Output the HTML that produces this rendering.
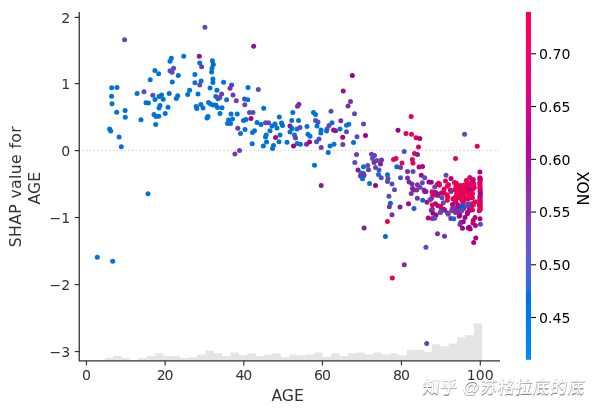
<!DOCTYPE html><html><head><meta charset="utf-8"><title>SHAP dependence plot</title><style>html,body{margin:0;padding:0;background:#fff;width:600px;height:413px;overflow:hidden}svg{display:block}</style></head><body><svg width="600" height="413" viewBox="0 0 600 413" font-family="'DejaVu Sans', 'Liberation Sans', sans-serif"><path d="M79.50 360.80V360.80H87.89V360.80H96.28V360.11H104.67V358.04H113.06V355.98H121.45V358.04H129.84V360.11H138.23V358.04H146.62V355.98H155.01V353.22H163.40V355.98H171.79V355.98H180.18V358.04H188.57V357.36H196.96V354.60H205.35V350.47H213.74V353.22H222.13V355.98H230.52V352.53H238.91V355.29H247.30V353.22H255.69V355.98H264.08V354.60H272.47V353.22H280.86V357.36H289.25V354.60H297.64V355.29H306.03V354.60H314.42V352.53H322.81V356.67H331.20V353.22H339.59V355.98H347.98V353.22H356.37V352.53H364.76V354.60H373.15V352.53H381.54V354.60H389.93V353.22H398.32V355.29H406.71V349.78H415.10V349.78H423.49V351.84H431.88V344.26H440.27V346.33H448.66V343.57H457.05V337.37H465.44V335.31H473.83V323.59H482.22V360.80H490.61V360.80H499.00V360.80Z" fill="#000" fill-opacity="0.1"/><line x1="79.25" y1="150.5" x2="500.0" y2="150.5" stroke="#999" stroke-opacity="0.5" stroke-width="1.1" stroke-dasharray="1.3 2.51" stroke-dashoffset="0.71"/><g><circle cx="455.9" cy="186.2" r="2.5" fill="#ea004f"/><circle cx="456.3" cy="189.4" r="2.5" fill="#ea004f"/><circle cx="456.6" cy="194.1" r="2.5" fill="#ea004f"/><circle cx="456.4" cy="198.2" r="2.5" fill="#ea004f"/><circle cx="460.5" cy="185.6" r="2.5" fill="#ea004f"/><circle cx="460.5" cy="188.7" r="2.5" fill="#ea004f"/><circle cx="460.4" cy="193.0" r="2.5" fill="#ea004f"/><circle cx="459.7" cy="198.0" r="2.5" fill="#ea004f"/><circle cx="464.0" cy="185.5" r="2.5" fill="#ea004f"/><circle cx="464.9" cy="189.6" r="2.5" fill="#ea004f"/><circle cx="464.2" cy="193.5" r="2.5" fill="#ea004f"/><circle cx="464.6" cy="198.0" r="2.5" fill="#ea004f"/><circle cx="467.9" cy="185.6" r="2.5" fill="#ea004f"/><circle cx="468.1" cy="189.1" r="2.5" fill="#ea004f"/><circle cx="468.9" cy="193.5" r="2.5" fill="#ea004f"/><circle cx="468.6" cy="197.9" r="2.5" fill="#ea004f"/><circle cx="473.2" cy="185.4" r="2.5" fill="#ea004f"/><circle cx="472.7" cy="189.5" r="2.5" fill="#ea004f"/><circle cx="472.5" cy="193.8" r="2.5" fill="#ea004f"/><circle cx="472.4" cy="197.6" r="2.5" fill="#ea004f"/><circle cx="426.0" cy="191.5" r="2.5" fill="#861e96"/><circle cx="431.4" cy="198.6" r="2.5" fill="#7e2ea1"/><circle cx="428.9" cy="181.9" r="2.5" fill="#a2008b"/><circle cx="436.0" cy="192.7" r="2.5" fill="#e70059"/><circle cx="432.2" cy="218.6" r="2.5" fill="#7e2ea1"/><circle cx="434.8" cy="195.0" r="2.5" fill="#e70059"/><circle cx="435.4" cy="203.7" r="2.5" fill="#b9007c"/><circle cx="436.5" cy="194.3" r="2.5" fill="#861e96"/><circle cx="438.7" cy="183.3" r="2.5" fill="#e70059"/><circle cx="436.0" cy="214.9" r="2.5" fill="#a2008b"/><circle cx="438.0" cy="195.4" r="2.5" fill="#861e96"/><circle cx="435.8" cy="193.3" r="2.5" fill="#e70059"/><circle cx="439.3" cy="183.9" r="2.5" fill="#e70059"/><circle cx="434.5" cy="192.2" r="2.5" fill="#861e96"/><circle cx="444.4" cy="193.3" r="2.5" fill="#ea004f"/><circle cx="447.6" cy="196.9" r="2.5" fill="#ea004f"/><circle cx="440.4" cy="212.4" r="2.5" fill="#7e2ea1"/><circle cx="444.2" cy="209.6" r="2.5" fill="#861e96"/><circle cx="447.6" cy="212.9" r="2.5" fill="#7e2ea1"/><circle cx="454.4" cy="182.5" r="2.5" fill="#ea004f"/><circle cx="455.6" cy="190.0" r="2.5" fill="#ea0052"/><circle cx="450.8" cy="218.4" r="2.5" fill="#7e2ea1"/><circle cx="452.4" cy="209.9" r="2.5" fill="#723aac"/><circle cx="455.9" cy="189.9" r="2.5" fill="#ea004f"/><circle cx="455.9" cy="202.0" r="2.5" fill="#e70059"/><circle cx="455.2" cy="209.8" r="2.5" fill="#7e2ea1"/><circle cx="455.2" cy="212.0" r="2.5" fill="#7e2ea1"/><circle cx="456.2" cy="183.3" r="2.5" fill="#ea004f"/><circle cx="450.4" cy="189.9" r="2.5" fill="#ea0052"/><circle cx="452.3" cy="208.8" r="2.5" fill="#723aac"/><circle cx="452.9" cy="198.8" r="2.5" fill="#e70059"/><circle cx="460.7" cy="222.5" r="2.5" fill="#7e2ea1"/><circle cx="462.8" cy="204.5" r="2.5" fill="#7e2ea1"/><circle cx="462.1" cy="200.7" r="2.5" fill="#e70059"/><circle cx="460.0" cy="207.5" r="2.5" fill="#ae0084"/><circle cx="459.5" cy="194.9" r="2.5" fill="#ea0052"/><circle cx="459.9" cy="215.1" r="2.5" fill="#a2008b"/><circle cx="457.6" cy="210.2" r="2.5" fill="#7e2ea1"/><circle cx="460.6" cy="194.4" r="2.5" fill="#e70059"/><circle cx="464.5" cy="185.0" r="2.5" fill="#e70059"/><circle cx="459.2" cy="190.6" r="2.5" fill="#e70059"/><circle cx="458.9" cy="211.9" r="2.5" fill="#7e2ea1"/><circle cx="460.4" cy="192.0" r="2.5" fill="#e70059"/><circle cx="463.9" cy="207.9" r="2.5" fill="#7e2ea1"/><circle cx="459.9" cy="210.8" r="2.5" fill="#7e2ea1"/><circle cx="463.7" cy="185.9" r="2.5" fill="#e70059"/><circle cx="463.3" cy="208.6" r="2.5" fill="#7e2ea1"/><circle cx="470.2" cy="229.0" r="2.5" fill="#a2008b"/><circle cx="472.3" cy="203.5" r="2.5" fill="#723aac"/><circle cx="467.4" cy="189.7" r="2.5" fill="#ea0052"/><circle cx="467.8" cy="204.8" r="2.5" fill="#723aac"/><circle cx="470.8" cy="193.8" r="2.5" fill="#ea0052"/><circle cx="471.0" cy="197.8" r="2.5" fill="#ea0052"/><circle cx="466.4" cy="180.5" r="2.5" fill="#ea0052"/><circle cx="470.7" cy="209.9" r="2.5" fill="#ae0084"/><circle cx="467.1" cy="184.5" r="2.5" fill="#e70059"/><circle cx="473.8" cy="183.5" r="2.5" fill="#ea0052"/><circle cx="467.3" cy="213.7" r="2.5" fill="#ae0084"/><circle cx="473.3" cy="179.5" r="2.5" fill="#ea0052"/><circle cx="470.4" cy="183.6" r="2.5" fill="#e70059"/><circle cx="471.2" cy="206.6" r="2.5" fill="#e70059"/><circle cx="469.2" cy="227.2" r="2.5" fill="#a2008b"/><circle cx="473.2" cy="220.5" r="2.5" fill="#b9007c"/><circle cx="470.9" cy="193.5" r="2.5" fill="#e70059"/><circle cx="467.9" cy="198.7" r="2.5" fill="#ea0052"/><circle cx="471.8" cy="188.4" r="2.5" fill="#ea0052"/><circle cx="469.6" cy="207.1" r="2.5" fill="#7e2ea1"/><circle cx="468.2" cy="203.8" r="2.5" fill="#723aac"/><circle cx="480.0" cy="178.0" r="2.5" fill="#e30062"/><circle cx="480.2" cy="179.5" r="2.5" fill="#e10064"/><circle cx="480.1" cy="181.0" r="2.5" fill="#e6005b"/><circle cx="479.9" cy="182.5" r="2.5" fill="#e80056"/><circle cx="479.9" cy="184.0" r="2.5" fill="#e70059"/><circle cx="479.9" cy="185.5" r="2.5" fill="#e10064"/><circle cx="480.1" cy="187.0" r="2.5" fill="#ea004c"/><circle cx="479.9" cy="188.5" r="2.5" fill="#e4005f"/><circle cx="480.2" cy="190.0" r="2.5" fill="#ea004a"/><circle cx="480.1" cy="191.5" r="2.5" fill="#e6005a"/><circle cx="480.3" cy="193.0" r="2.5" fill="#941391"/><circle cx="480.2" cy="194.5" r="2.5" fill="#9f038c"/><circle cx="480.0" cy="196.0" r="2.5" fill="#970f8f"/><circle cx="480.0" cy="197.5" r="2.5" fill="#b20080"/><circle cx="480.0" cy="199.0" r="2.5" fill="#aa0085"/><circle cx="480.2" cy="200.5" r="2.5" fill="#a1008b"/><circle cx="480.1" cy="202.0" r="2.5" fill="#b4007f"/><circle cx="479.9" cy="203.5" r="2.5" fill="#b9007b"/><circle cx="480.2" cy="205.0" r="2.5" fill="#c00076"/><circle cx="480.0" cy="206.5" r="2.5" fill="#c40071"/><circle cx="480.1" cy="208.0" r="2.5" fill="#bc0079"/><circle cx="480.2" cy="209.5" r="2.5" fill="#df0066"/><circle cx="124.6" cy="39.8" r="2.5" fill="#564dbd"/><circle cx="111.7" cy="87.7" r="2.5" fill="#0072d8"/><circle cx="117.0" cy="87.4" r="2.5" fill="#0072d8"/><circle cx="111.6" cy="96.3" r="2.5" fill="#0072d8"/><circle cx="112.0" cy="103.7" r="2.5" fill="#0072d8"/><circle cx="116.7" cy="112.3" r="2.5" fill="#0072d8"/><circle cx="125.1" cy="110.6" r="2.5" fill="#0072d8"/><circle cx="125.3" cy="117.2" r="2.5" fill="#0072d8"/><circle cx="137.1" cy="93.4" r="2.5" fill="#0072d8"/><circle cx="144.0" cy="91.8" r="2.5" fill="#564dbd"/><circle cx="150.2" cy="79.7" r="2.5" fill="#0072d8"/><circle cx="154.9" cy="70.6" r="2.5" fill="#0072d8"/><circle cx="158.6" cy="73.7" r="2.5" fill="#0072d8"/><circle cx="152.8" cy="95.2" r="2.5" fill="#564dbd"/><circle cx="155.0" cy="99.4" r="2.5" fill="#0072d8"/><circle cx="159.0" cy="96.6" r="2.5" fill="#0072d8"/><circle cx="146.0" cy="102.7" r="2.5" fill="#0072d8"/><circle cx="148.4" cy="103.0" r="2.5" fill="#0072d8"/><circle cx="160.0" cy="105.5" r="2.5" fill="#0072d8"/><circle cx="159.0" cy="108.0" r="2.5" fill="#0072d8"/><circle cx="154.0" cy="114.5" r="2.5" fill="#0072d8"/><circle cx="156.1" cy="116.5" r="2.5" fill="#0072d8"/><circle cx="158.8" cy="116.3" r="2.5" fill="#0072d8"/><circle cx="141.0" cy="119.8" r="2.5" fill="#0072d8"/><circle cx="155.7" cy="124.6" r="2.5" fill="#0072d8"/><circle cx="109.6" cy="129.0" r="2.5" fill="#0072d8"/><circle cx="110.7" cy="131.0" r="2.5" fill="#0072d8"/><circle cx="119.1" cy="137.0" r="2.5" fill="#0072d8"/><circle cx="121.3" cy="146.7" r="2.5" fill="#0072d8"/><circle cx="148.0" cy="193.7" r="2.5" fill="#0072d8"/><circle cx="97.3" cy="257.3" r="2.5" fill="#0072d8"/><circle cx="112.7" cy="261.3" r="2.5" fill="#0072d8"/><circle cx="183.7" cy="56.3" r="2.5" fill="#0078da"/><circle cx="199.3" cy="56.3" r="2.5" fill="#941291"/><circle cx="171.3" cy="58.3" r="2.5" fill="#0072d8"/><circle cx="170.0" cy="61.2" r="2.5" fill="#0072d8"/><circle cx="199.7" cy="63.0" r="2.5" fill="#0072d8"/><circle cx="212.4" cy="60.8" r="2.5" fill="#0072d8"/><circle cx="204.9" cy="27.3" r="2.5" fill="#564dbd"/><circle cx="201.6" cy="66.7" r="2.5" fill="#723aac"/><circle cx="213.3" cy="64.6" r="2.5" fill="#0064d0"/><circle cx="212.0" cy="68.3" r="2.5" fill="#0072d8"/><circle cx="211.6" cy="72.0" r="2.5" fill="#0072d8"/><circle cx="170.0" cy="70.7" r="2.5" fill="#564dbd"/><circle cx="173.6" cy="68.3" r="2.5" fill="#564dbd"/><circle cx="172.0" cy="72.3" r="2.5" fill="#564dbd"/><circle cx="178.3" cy="75.4" r="2.5" fill="#0072d8"/><circle cx="172.3" cy="81.9" r="2.5" fill="#0072d8"/><circle cx="194.9" cy="74.6" r="2.5" fill="#0072d8"/><circle cx="194.9" cy="82.7" r="2.5" fill="#0072d8"/><circle cx="201.1" cy="81.0" r="2.5" fill="#0072d8"/><circle cx="199.7" cy="85.0" r="2.5" fill="#6544b5"/><circle cx="212.9" cy="79.0" r="2.5" fill="#0072d8"/><circle cx="212.9" cy="82.6" r="2.5" fill="#0072d8"/><circle cx="223.6" cy="82.3" r="2.5" fill="#0072d8"/><circle cx="231.6" cy="85.0" r="2.5" fill="#1e5dcb"/><circle cx="230.0" cy="88.3" r="2.5" fill="#7e2ea1"/><circle cx="210.0" cy="88.0" r="2.5" fill="#0072d8"/><circle cx="216.9" cy="90.2" r="2.5" fill="#0072d8"/><circle cx="221.6" cy="93.9" r="2.5" fill="#723aac"/><circle cx="233.0" cy="95.0" r="2.5" fill="#723aac"/><circle cx="236.3" cy="100.8" r="2.5" fill="#723aac"/><circle cx="226.6" cy="99.8" r="2.5" fill="#0072d8"/><circle cx="189.6" cy="90.3" r="2.5" fill="#0072d8"/><circle cx="187.7" cy="94.5" r="2.5" fill="#0072d8"/><circle cx="198.0" cy="94.0" r="2.5" fill="#0072d8"/><circle cx="169.2" cy="93.6" r="2.5" fill="#0072d8"/><circle cx="161.5" cy="95.0" r="2.5" fill="#0072d8"/><circle cx="163.2" cy="99.3" r="2.5" fill="#0072d8"/><circle cx="177.7" cy="95.8" r="2.5" fill="#0072d8"/><circle cx="176.3" cy="98.4" r="2.5" fill="#0072d8"/><circle cx="168.0" cy="107.2" r="2.5" fill="#0072d8"/><circle cx="215.8" cy="96.5" r="2.5" fill="#0072d8"/><circle cx="218.0" cy="98.8" r="2.5" fill="#564dbd"/><circle cx="219.8" cy="97.5" r="2.5" fill="#564dbd"/><circle cx="208.5" cy="102.5" r="2.5" fill="#0072d8"/><circle cx="210.5" cy="104.0" r="2.5" fill="#0072d8"/><circle cx="213.0" cy="105.0" r="2.5" fill="#0072d8"/><circle cx="215.8" cy="105.0" r="2.5" fill="#0072d8"/><circle cx="217.5" cy="107.5" r="2.5" fill="#0072d8"/><circle cx="222.0" cy="107.8" r="2.5" fill="#0072d8"/><circle cx="196.2" cy="106.5" r="2.5" fill="#0072d8"/><circle cx="196.8" cy="108.5" r="2.5" fill="#0072d8"/><circle cx="200.8" cy="104.5" r="2.5" fill="#0072d8"/><circle cx="203.0" cy="108.0" r="2.5" fill="#0072d8"/><circle cx="220.0" cy="113.5" r="2.5" fill="#0072d8"/><circle cx="208.0" cy="116.5" r="2.5" fill="#0072d8"/><circle cx="207.0" cy="118.0" r="2.5" fill="#0072d8"/><circle cx="231.0" cy="114.0" r="2.5" fill="#0072d8"/><circle cx="237.2" cy="114.0" r="2.5" fill="#0072d8"/><circle cx="232.5" cy="119.0" r="2.5" fill="#0072d8"/><circle cx="228.5" cy="120.0" r="2.5" fill="#0072d8"/><circle cx="227.5" cy="123.5" r="2.5" fill="#0072d8"/><circle cx="230.5" cy="123.5" r="2.5" fill="#0072d8"/><circle cx="243.5" cy="120.5" r="2.5" fill="#0072d8"/><circle cx="246.0" cy="119.5" r="2.5" fill="#0072d8"/><circle cx="244.5" cy="99.0" r="2.5" fill="#1e5dcb"/><circle cx="247.8" cy="99.8" r="2.5" fill="#0072d8"/><circle cx="244.8" cy="104.8" r="2.5" fill="#723aac"/><circle cx="237.8" cy="128.2" r="2.5" fill="#723aac"/><circle cx="245.0" cy="129.5" r="2.5" fill="#0072d8"/><circle cx="165.2" cy="113.5" r="2.5" fill="#0072d8"/><circle cx="240.5" cy="133.5" r="2.5" fill="#0072d8"/><circle cx="234.9" cy="154.0" r="2.5" fill="#723aac"/><circle cx="239.5" cy="150.5" r="2.5" fill="#723aac"/><circle cx="253.7" cy="46.3" r="2.5" fill="#941291"/><circle cx="248.0" cy="87.4" r="2.5" fill="#0072d8"/><circle cx="258.3" cy="89.4" r="2.5" fill="#564dbd"/><circle cx="263.7" cy="108.2" r="2.5" fill="#0072d8"/><circle cx="297.5" cy="106.3" r="2.5" fill="#7e2ea1"/><circle cx="298.9" cy="104.3" r="2.5" fill="#7e2ea1"/><circle cx="249.5" cy="112.5" r="2.5" fill="#564dbd"/><circle cx="253.0" cy="112.5" r="2.5" fill="#564dbd"/><circle cx="251.0" cy="118.5" r="2.5" fill="#a2008b"/><circle cx="292.8" cy="112.5" r="2.5" fill="#0072d8"/><circle cx="279.3" cy="117.0" r="2.5" fill="#0072d8"/><circle cx="257.0" cy="122.5" r="2.5" fill="#0072d8"/><circle cx="261.0" cy="124.5" r="2.5" fill="#0072d8"/><circle cx="265.5" cy="122.8" r="2.5" fill="#6544b5"/><circle cx="268.5" cy="122.8" r="2.5" fill="#6544b5"/><circle cx="272.0" cy="126.0" r="2.5" fill="#0072d8"/><circle cx="275.0" cy="124.0" r="2.5" fill="#0072d8"/><circle cx="277.0" cy="128.0" r="2.5" fill="#0072d8"/><circle cx="281.5" cy="123.0" r="2.5" fill="#0072d8"/><circle cx="282.5" cy="125.5" r="2.5" fill="#006bd5"/><circle cx="291.8" cy="120.5" r="2.5" fill="#0072d8"/><circle cx="298.5" cy="120.5" r="2.5" fill="#0072d8"/><circle cx="290.0" cy="126.0" r="2.5" fill="#941291"/><circle cx="292.0" cy="128.5" r="2.5" fill="#006bd5"/><circle cx="297.0" cy="129.0" r="2.5" fill="#0072d8"/><circle cx="300.0" cy="127.5" r="2.5" fill="#6544b5"/><circle cx="252.5" cy="132.5" r="2.5" fill="#0072d8"/><circle cx="254.5" cy="130.8" r="2.5" fill="#0072d8"/><circle cx="270.0" cy="130.8" r="2.5" fill="#0072d8"/><circle cx="266.2" cy="135.0" r="2.5" fill="#0072d8"/><circle cx="265.5" cy="137.0" r="2.5" fill="#0072d8"/><circle cx="280.0" cy="135.0" r="2.5" fill="#0072d8"/><circle cx="275.5" cy="137.5" r="2.5" fill="#ae0084"/><circle cx="279.0" cy="141.7" r="2.5" fill="#0072d8"/><circle cx="266.5" cy="142.0" r="2.5" fill="#0072d8"/><circle cx="287.0" cy="142.3" r="2.5" fill="#0072d8"/><circle cx="290.0" cy="132.0" r="2.5" fill="#0072d8"/><circle cx="294.5" cy="135.0" r="2.5" fill="#0072d8"/><circle cx="295.5" cy="138.0" r="2.5" fill="#723aac"/><circle cx="252.2" cy="143.8" r="2.5" fill="#0072d8"/><circle cx="263.3" cy="146.0" r="2.5" fill="#0072d8"/><circle cx="273.5" cy="145.5" r="2.5" fill="#0072d8"/><circle cx="272.5" cy="148.5" r="2.5" fill="#0072d8"/><circle cx="293.5" cy="146.0" r="2.5" fill="#a2008b"/><circle cx="297.2" cy="143.6" r="2.5" fill="#0072d8"/><circle cx="300.4" cy="144.2" r="2.5" fill="#0072d8"/><circle cx="352.3" cy="75.5" r="2.5" fill="#a2008b"/><circle cx="343.2" cy="91.0" r="2.5" fill="#941291"/><circle cx="350.5" cy="101.5" r="2.5" fill="#7e2ea1"/><circle cx="348.0" cy="106.0" r="2.5" fill="#7e2ea1"/><circle cx="331.0" cy="111.2" r="2.5" fill="#564dbd"/><circle cx="354.5" cy="113.8" r="2.5" fill="#564dbd"/><circle cx="313.5" cy="112.5" r="2.5" fill="#0072d8"/><circle cx="315.5" cy="114.5" r="2.5" fill="#0072d8"/><circle cx="315.5" cy="120.5" r="2.5" fill="#564dbd"/><circle cx="318.0" cy="122.0" r="2.5" fill="#564dbd"/><circle cx="317.0" cy="126.0" r="2.5" fill="#0072d8"/><circle cx="307.0" cy="126.5" r="2.5" fill="#0072d8"/><circle cx="321.0" cy="130.0" r="2.5" fill="#0072d8"/><circle cx="320.8" cy="133.0" r="2.5" fill="#0072d8"/><circle cx="332.0" cy="122.8" r="2.5" fill="#0072d8"/><circle cx="329.0" cy="125.5" r="2.5" fill="#6544b5"/><circle cx="327.0" cy="129.0" r="2.5" fill="#6544b5"/><circle cx="326.5" cy="131.0" r="2.5" fill="#0072d8"/><circle cx="340.8" cy="120.8" r="2.5" fill="#7e2ea1"/><circle cx="333.5" cy="130.0" r="2.5" fill="#941291"/><circle cx="335.5" cy="130.8" r="2.5" fill="#941291"/><circle cx="340.0" cy="129.0" r="2.5" fill="#0072d8"/><circle cx="346.5" cy="125.2" r="2.5" fill="#0072d8"/><circle cx="348.8" cy="124.2" r="2.5" fill="#0072d8"/><circle cx="346.5" cy="131.8" r="2.5" fill="#4156c5"/><circle cx="308.0" cy="134.3" r="2.5" fill="#0072d8"/><circle cx="310.0" cy="136.3" r="2.5" fill="#0072d8"/><circle cx="342.7" cy="137.2" r="2.5" fill="#ae0084"/><circle cx="357.0" cy="136.8" r="2.5" fill="#564dbd"/><circle cx="306.5" cy="144.2" r="2.5" fill="#7e2ea1"/><circle cx="309.5" cy="142.0" r="2.5" fill="#a2008b"/><circle cx="316.5" cy="141.8" r="2.5" fill="#564dbd"/><circle cx="319.0" cy="139.0" r="2.5" fill="#564dbd"/><circle cx="321.2" cy="147.5" r="2.5" fill="#723aac"/><circle cx="330.0" cy="146.0" r="2.5" fill="#0072d8"/><circle cx="334.0" cy="144.2" r="2.5" fill="#0072d8"/><circle cx="328.2" cy="152.5" r="2.5" fill="#0072d8"/><circle cx="342.8" cy="144.5" r="2.5" fill="#723aac"/><circle cx="353.5" cy="142.5" r="2.5" fill="#0072d8"/><circle cx="356.5" cy="154.5" r="2.5" fill="#723aac"/><circle cx="354.8" cy="162.5" r="2.5" fill="#564dbd"/><circle cx="314.5" cy="165.2" r="2.5" fill="#0072d8"/><circle cx="358.0" cy="170.0" r="2.5" fill="#941291"/><circle cx="321.2" cy="185.5" r="2.5" fill="#861e96"/><circle cx="363.5" cy="124.0" r="2.5" fill="#564dbd"/><circle cx="411.2" cy="116.5" r="2.5" fill="#e70059"/><circle cx="398.0" cy="130.3" r="2.5" fill="#a2008b"/><circle cx="406.0" cy="133.5" r="2.5" fill="#e70059"/><circle cx="411.5" cy="134.2" r="2.5" fill="#e70059"/><circle cx="365.5" cy="135.5" r="2.5" fill="#a2008b"/><circle cx="404.2" cy="151.5" r="2.5" fill="#564dbd"/><circle cx="371.5" cy="154.2" r="2.5" fill="#723aac"/><circle cx="374.5" cy="155.5" r="2.5" fill="#723aac"/><circle cx="372.5" cy="158.5" r="2.5" fill="#564dbd"/><circle cx="377.0" cy="160.5" r="2.5" fill="#564dbd"/><circle cx="381.5" cy="160.0" r="2.5" fill="#7e2ea1"/><circle cx="374.0" cy="162.5" r="2.5" fill="#7e2ea1"/><circle cx="380.5" cy="164.0" r="2.5" fill="#861e96"/><circle cx="393.5" cy="159.5" r="2.5" fill="#e20062"/><circle cx="396.0" cy="158.5" r="2.5" fill="#e20062"/><circle cx="402.0" cy="163.0" r="2.5" fill="#e70059"/><circle cx="412.3" cy="159.5" r="2.5" fill="#e70059"/><circle cx="413.0" cy="163.0" r="2.5" fill="#e70059"/><circle cx="363.5" cy="166.8" r="2.5" fill="#0072d8"/><circle cx="367.8" cy="165.5" r="2.5" fill="#564dbd"/><circle cx="368.5" cy="169.8" r="2.5" fill="#723aac"/><circle cx="361.0" cy="173.0" r="2.5" fill="#0072d8"/><circle cx="363.5" cy="173.5" r="2.5" fill="#0072d8"/><circle cx="360.5" cy="176.0" r="2.5" fill="#7e2ea1"/><circle cx="364.0" cy="175.5" r="2.5" fill="#7e2ea1"/><circle cx="362.5" cy="178.8" r="2.5" fill="#0072d8"/><circle cx="375.5" cy="167.5" r="2.5" fill="#564dbd"/><circle cx="379.0" cy="170.0" r="2.5" fill="#564dbd"/><circle cx="378.5" cy="174.5" r="2.5" fill="#0072d8"/><circle cx="381.2" cy="177.8" r="2.5" fill="#564dbd"/><circle cx="369.5" cy="183.5" r="2.5" fill="#0072d8"/><circle cx="375.5" cy="185.5" r="2.5" fill="#a2008b"/><circle cx="387.5" cy="174.8" r="2.5" fill="#0072d8"/><circle cx="388.0" cy="178.5" r="2.5" fill="#564dbd"/><circle cx="387.5" cy="181.5" r="2.5" fill="#564dbd"/><circle cx="392.0" cy="184.0" r="2.5" fill="#564dbd"/><circle cx="394.5" cy="189.8" r="2.5" fill="#564dbd"/><circle cx="388.9" cy="196.3" r="2.5" fill="#564dbd"/><circle cx="390.4" cy="203.2" r="2.5" fill="#006bd5"/><circle cx="389.3" cy="206.8" r="2.5" fill="#7e2ea1"/><circle cx="396.8" cy="166.8" r="2.5" fill="#006bd5"/><circle cx="400.5" cy="167.5" r="2.5" fill="#723aac"/><circle cx="400.5" cy="177.8" r="2.5" fill="#564dbd"/><circle cx="407.5" cy="171.5" r="2.5" fill="#7e2ea1"/><circle cx="413.0" cy="171.6" r="2.5" fill="#564dbd"/><circle cx="407.5" cy="178.0" r="2.5" fill="#7e2ea1"/><circle cx="409.0" cy="182.0" r="2.5" fill="#7e2ea1"/><circle cx="412.0" cy="184.0" r="2.5" fill="#7e2ea1"/><circle cx="412.5" cy="188.5" r="2.5" fill="#861e96"/><circle cx="414.0" cy="190.0" r="2.5" fill="#861e96"/><circle cx="411.2" cy="193.5" r="2.5" fill="#7e2ea1"/><circle cx="408.5" cy="203.8" r="2.5" fill="#ae0084"/><circle cx="400.0" cy="207.0" r="2.5" fill="#861e96"/><circle cx="414.0" cy="208.4" r="2.5" fill="#1e5dcb"/><circle cx="392.0" cy="214.7" r="2.5" fill="#7e2ea1"/><circle cx="387.4" cy="221.5" r="2.5" fill="#e70059"/><circle cx="364.1" cy="228.0" r="2.5" fill="#861e96"/><circle cx="385.4" cy="236.6" r="2.5" fill="#006bd5"/><circle cx="425.9" cy="247.3" r="2.5" fill="#564dbd"/><circle cx="404.3" cy="264.7" r="2.5" fill="#7e2ea1"/><circle cx="392.3" cy="278.0" r="2.5" fill="#e70059"/><circle cx="426.7" cy="343.6" r="2.5" fill="#564dbd"/><circle cx="416.0" cy="137.8" r="2.5" fill="#e70059"/><circle cx="419.8" cy="138.5" r="2.5" fill="#b9007c"/><circle cx="418.5" cy="147.0" r="2.5" fill="#e70059"/><circle cx="464.6" cy="134.3" r="2.5" fill="#564dbd"/><circle cx="455.5" cy="158.5" r="2.5" fill="#e70059"/><circle cx="414.5" cy="153.5" r="2.5" fill="#e70059"/><circle cx="417.5" cy="154.5" r="2.5" fill="#861e96"/><circle cx="419.0" cy="167.0" r="2.5" fill="#b9007c"/><circle cx="422.5" cy="166.5" r="2.5" fill="#b9007c"/><circle cx="421.3" cy="175.3" r="2.5" fill="#ae0084"/><circle cx="424.7" cy="177.7" r="2.5" fill="#564dbd"/><circle cx="431.2" cy="182.3" r="2.5" fill="#a2008b"/><circle cx="446.0" cy="175.3" r="2.5" fill="#564dbd"/><circle cx="451.0" cy="178.4" r="2.5" fill="#ae0084"/><circle cx="445.5" cy="181.0" r="2.5" fill="#e70059"/><circle cx="448.5" cy="184.8" r="2.5" fill="#e70059"/><circle cx="437.3" cy="184.3" r="2.5" fill="#e70059"/><circle cx="439.3" cy="185.3" r="2.5" fill="#e70059"/><circle cx="434.7" cy="187.0" r="2.5" fill="#564dbd"/><circle cx="444.0" cy="189.3" r="2.5" fill="#e70059"/><circle cx="432.0" cy="191.7" r="2.5" fill="#e70059"/><circle cx="436.7" cy="193.5" r="2.5" fill="#861e96"/><circle cx="441.3" cy="193.0" r="2.5" fill="#c20074"/><circle cx="417.3" cy="184.7" r="2.5" fill="#7e2ea1"/><circle cx="422.3" cy="182.7" r="2.5" fill="#6544b5"/><circle cx="420.0" cy="187.3" r="2.5" fill="#6544b5"/><circle cx="424.0" cy="190.0" r="2.5" fill="#7e2ea1"/><circle cx="416.7" cy="190.0" r="2.5" fill="#7e2ea1"/><circle cx="424.7" cy="191.5" r="2.5" fill="#861e96"/><circle cx="417.3" cy="198.3" r="2.5" fill="#7e2ea1"/><circle cx="422.7" cy="200.3" r="2.5" fill="#006bd5"/><circle cx="427.0" cy="202.3" r="2.5" fill="#b9007c"/><circle cx="430.0" cy="199.7" r="2.5" fill="#6544b5"/><circle cx="432.7" cy="195.0" r="2.5" fill="#e70059"/><circle cx="447.3" cy="186.3" r="2.5" fill="#e70059"/><circle cx="447.3" cy="195.0" r="2.5" fill="#ea004f"/><circle cx="442.0" cy="197.7" r="2.5" fill="#6544b5"/><circle cx="443.3" cy="202.7" r="2.5" fill="#564dbd"/><circle cx="447.3" cy="200.3" r="2.5" fill="#e70059"/><circle cx="432.3" cy="205.0" r="2.5" fill="#ea004f"/><circle cx="438.0" cy="205.7" r="2.5" fill="#b9007c"/><circle cx="431.3" cy="210.3" r="2.5" fill="#7e2ea1"/><circle cx="441.3" cy="208.3" r="2.5" fill="#861e96"/><circle cx="444.7" cy="210.3" r="2.5" fill="#861e96"/><circle cx="456.3" cy="183.8" r="2.5" fill="#ea004f"/><circle cx="469.8" cy="177.4" r="2.5" fill="#e70059"/><circle cx="479.9" cy="172.1" r="2.5" fill="#b9007c"/><circle cx="479.9" cy="178.1" r="2.5" fill="#ae0084"/><circle cx="472.0" cy="181.1" r="2.5" fill="#b9007c"/><circle cx="474.3" cy="187.5" r="2.5" fill="#e70059"/><circle cx="463.0" cy="186.0" r="2.5" fill="#e70059"/><circle cx="467.5" cy="183.8" r="2.5" fill="#e70059"/><circle cx="460.0" cy="189.0" r="2.5" fill="#e70059"/><circle cx="465.3" cy="191.3" r="2.5" fill="#e70059"/><circle cx="454.8" cy="189.8" r="2.5" fill="#ea004f"/><circle cx="451.0" cy="191.6" r="2.5" fill="#7e2ea1"/><circle cx="469.8" cy="189.8" r="2.5" fill="#b9007c"/><circle cx="477.2" cy="146.2" r="2.5" fill="#e70059"/><circle cx="440.8" cy="206.3" r="2.5" fill="#e70059"/><circle cx="440.8" cy="212.1" r="2.5" fill="#564dbd"/><circle cx="448.3" cy="214.2" r="2.5" fill="#6544b5"/><circle cx="453.8" cy="218.8" r="2.5" fill="#0072d8"/><circle cx="451.7" cy="210.8" r="2.5" fill="#723aac"/><circle cx="452.5" cy="204.6" r="2.5" fill="#ae0084"/><circle cx="455.8" cy="207.9" r="2.5" fill="#7e2ea1"/><circle cx="457.9" cy="205.0" r="2.5" fill="#ae0084"/><circle cx="455.8" cy="212.5" r="2.5" fill="#7e2ea1"/><circle cx="459.2" cy="216.3" r="2.5" fill="#a2008b"/><circle cx="457.5" cy="211.7" r="2.5" fill="#7e2ea1"/><circle cx="462.1" cy="206.3" r="2.5" fill="#0064d0"/><circle cx="461.7" cy="210.8" r="2.5" fill="#564dbd"/><circle cx="455.0" cy="200.8" r="2.5" fill="#e70059"/><circle cx="463.8" cy="200.8" r="2.5" fill="#e70059"/><circle cx="466.7" cy="205.8" r="2.5" fill="#564dbd"/><circle cx="469.6" cy="204.2" r="2.5" fill="#723aac"/><circle cx="467.5" cy="212.5" r="2.5" fill="#ae0084"/><circle cx="465.0" cy="217.5" r="2.5" fill="#a2008b"/><circle cx="463.3" cy="221.7" r="2.5" fill="#a2008b"/><circle cx="460.0" cy="224.6" r="2.5" fill="#7e2ea1"/><circle cx="462.5" cy="228.3" r="2.5" fill="#a2008b"/><circle cx="468.3" cy="227.9" r="2.5" fill="#a2008b"/><circle cx="472.9" cy="222.9" r="2.5" fill="#b9007c"/><circle cx="475.4" cy="225.4" r="2.5" fill="#b9007c"/><circle cx="475.0" cy="217.5" r="2.5" fill="#b9007c"/><circle cx="480.0" cy="218.8" r="2.5" fill="#ae0084"/><circle cx="480.4" cy="224.2" r="2.5" fill="#564dbd"/><circle cx="472.5" cy="210.0" r="2.5" fill="#e70059"/><circle cx="473.3" cy="205.0" r="2.5" fill="#e70059"/><circle cx="475.0" cy="201.7" r="2.5" fill="#e70059"/><circle cx="479.2" cy="210.8" r="2.5" fill="#e70059"/><circle cx="479.2" cy="205.0" r="2.5" fill="#e20062"/><circle cx="479.6" cy="200.8" r="2.5" fill="#e70059"/><circle cx="469.2" cy="210.0" r="2.5" fill="#ae0084"/><circle cx="437.5" cy="233.8" r="2.5" fill="#7e2ea1"/><circle cx="444.5" cy="236.2" r="2.5" fill="#7e2ea1"/><circle cx="475.8" cy="237.9" r="2.5" fill="#ae0084"/><circle cx="473.7" cy="242.6" r="2.5" fill="#ae0084"/><circle cx="456.7" cy="188.8" r="2.5" fill="#ea0052"/><circle cx="471.3" cy="193.4" r="2.5" fill="#e70059"/><circle cx="468.9" cy="195.2" r="2.5" fill="#ea0052"/><circle cx="463.1" cy="194.6" r="2.5" fill="#ea0052"/><circle cx="459.6" cy="195.8" r="2.5" fill="#ea0052"/><circle cx="455.0" cy="197.5" r="2.5" fill="#e20062"/><circle cx="464.9" cy="198.1" r="2.5" fill="#ea0052"/><circle cx="470.1" cy="196.3" r="2.5" fill="#ea0052"/><circle cx="461.4" cy="193.4" r="2.5" fill="#e70059"/><circle cx="433.0" cy="213.3" r="2.5" fill="#a2008b"/><circle cx="428.2" cy="218.0" r="2.5" fill="#c20074"/><circle cx="434.7" cy="218.3" r="2.5" fill="#564dbd"/><circle cx="432.3" cy="209.2" r="2.5" fill="#7e2ea1"/></g><path d="M79.25 11.9V360.8H500.0" fill="none" stroke="#333333" stroke-width="1.3" stroke-linecap="butt" stroke-linejoin="miter"/><g stroke="#333333" stroke-width="1.2"><line x1="74.75" y1="17.40" x2="79.25" y2="17.40"/><line x1="74.75" y1="83.60" x2="79.25" y2="83.60"/><line x1="74.75" y1="150.60" x2="79.25" y2="150.60"/><line x1="74.75" y1="217.50" x2="79.25" y2="217.50"/><line x1="74.75" y1="284.56" x2="79.25" y2="284.56"/><line x1="74.75" y1="351.56" x2="79.25" y2="351.56"/><line x1="86.45" y1="360.8" x2="86.45" y2="365.40"/><line x1="165.14" y1="360.8" x2="165.14" y2="365.40"/><line x1="243.80" y1="360.8" x2="243.80" y2="365.40"/><line x1="322.46" y1="360.8" x2="322.46" y2="365.40"/><line x1="401.46" y1="360.8" x2="401.46" y2="365.40"/><line x1="480.30" y1="360.8" x2="480.30" y2="365.40"/></g><g fill="#333333" font-size="14.1px"><text x="70.25" y="22.80" text-anchor="end">2</text><text x="70.25" y="89.00" text-anchor="end">1</text><text x="70.25" y="156.00" text-anchor="end">0</text><text x="70.25" y="222.90" text-anchor="end">−1</text><text x="70.25" y="289.96" text-anchor="end">−2</text><text x="70.25" y="356.96" text-anchor="end">−3</text><text x="86.45" y="380.2" text-anchor="middle">0</text><text x="165.14" y="380.2" text-anchor="middle" textLength="16.8" lengthAdjust="spacing">20</text><text x="243.80" y="380.2" text-anchor="middle" textLength="16.8" lengthAdjust="spacing">40</text><text x="322.46" y="380.2" text-anchor="middle" textLength="16.8" lengthAdjust="spacing">60</text><text x="401.46" y="380.2" text-anchor="middle" textLength="16.8" lengthAdjust="spacing">80</text><text x="480.30" y="380.2" text-anchor="middle">100</text></g><text x="287.65" y="400.7" text-anchor="middle" fill="#333333" font-size="15.7px">AGE</text><g transform="translate(20.85 186.8) rotate(-90)"><text x="0" y="0" text-anchor="middle" fill="#333333" font-size="15.7px" textLength="121" lengthAdjust="spacing">SHAP value for</text></g><g transform="translate(39.9 188.15) rotate(-90)"><text x="0" y="0" text-anchor="middle" fill="#333333" font-size="15.7px">AGE</text></g><defs><linearGradient id="cb" x1="0" y1="1" x2="0" y2="0"><stop offset="0.000" stop-color="#008bfb"/><stop offset="0.030" stop-color="#0086fa"/><stop offset="0.061" stop-color="#0082f8"/><stop offset="0.091" stop-color="#007ef6"/><stop offset="0.121" stop-color="#0079f3"/><stop offset="0.152" stop-color="#0074f0"/><stop offset="0.182" stop-color="#006fed"/><stop offset="0.212" stop-color="#306ae9"/><stop offset="0.242" stop-color="#4664e4"/><stop offset="0.273" stop-color="#575fdf"/><stop offset="0.303" stop-color="#6459da"/><stop offset="0.333" stop-color="#6f52d4"/><stop offset="0.364" stop-color="#794cce"/><stop offset="0.394" stop-color="#8244c7"/><stop offset="0.424" stop-color="#8a3cc0"/><stop offset="0.455" stop-color="#9233b9"/><stop offset="0.485" stop-color="#9829b1"/><stop offset="0.515" stop-color="#a01fab"/><stop offset="0.545" stop-color="#aa17a7"/><stop offset="0.576" stop-color="#b30aa3"/><stop offset="0.606" stop-color="#bc009f"/><stop offset="0.636" stop-color="#c5009a"/><stop offset="0.667" stop-color="#cd0095"/><stop offset="0.697" stop-color="#d40090"/><stop offset="0.727" stop-color="#db008a"/><stop offset="0.758" stop-color="#e10084"/><stop offset="0.788" stop-color="#e7007e"/><stop offset="0.818" stop-color="#ec0078"/><stop offset="0.848" stop-color="#f10072"/><stop offset="0.879" stop-color="#f6006c"/><stop offset="0.909" stop-color="#fa0065"/><stop offset="0.939" stop-color="#fd005f"/><stop offset="0.970" stop-color="#ff0058"/><stop offset="1.000" stop-color="#ff0051"/><stop offset="1" stop-color="#ff0051"/></linearGradient></defs><rect x="525.9" y="11.9" width="5.10" height="347.90" fill="url(#cb)"/><g stroke="#000" stroke-width="1.03"><line x1="531.0" y1="53.80" x2="536.00" y2="53.80"/><line x1="531.0" y1="106.55" x2="536.00" y2="106.55"/><line x1="531.0" y1="159.30" x2="536.00" y2="159.30"/><line x1="531.0" y1="212.05" x2="536.00" y2="212.05"/><line x1="531.0" y1="264.80" x2="536.00" y2="264.80"/><line x1="531.0" y1="317.55" x2="536.00" y2="317.55"/></g><g fill="#000" font-size="14.1px"><text x="539.00" y="59.10">0.70</text><text x="539.00" y="111.85">0.65</text><text x="539.00" y="164.60">0.60</text><text x="539.00" y="217.35">0.55</text><text x="539.00" y="270.10">0.50</text><text x="539.00" y="322.85">0.45</text></g><g transform="translate(588.8 188.5) rotate(-90)"><text x="0" y="0" text-anchor="middle" fill="#000" font-size="15.7px">NOX</text></g><defs><filter id="wb" x="-5%" y="-30%" width="110%" height="160%"><feGaussianBlur stdDeviation="0.7"/></filter></defs><g font-family="'Liberation Sans','Noto Sans CJK SC',sans-serif" font-size="17px" font-weight="500" letter-spacing="0.45px" transform="translate(0 393) skewX(-6) translate(0 -393)"><text x="422.3" y="393.6" fill="#666" opacity="0.9" filter="url(#wb)">知乎 @苏格拉底的底</text><text x="422" y="392.9" fill="#fff">知乎 @苏格拉底的底</text></g></svg></body></html>
